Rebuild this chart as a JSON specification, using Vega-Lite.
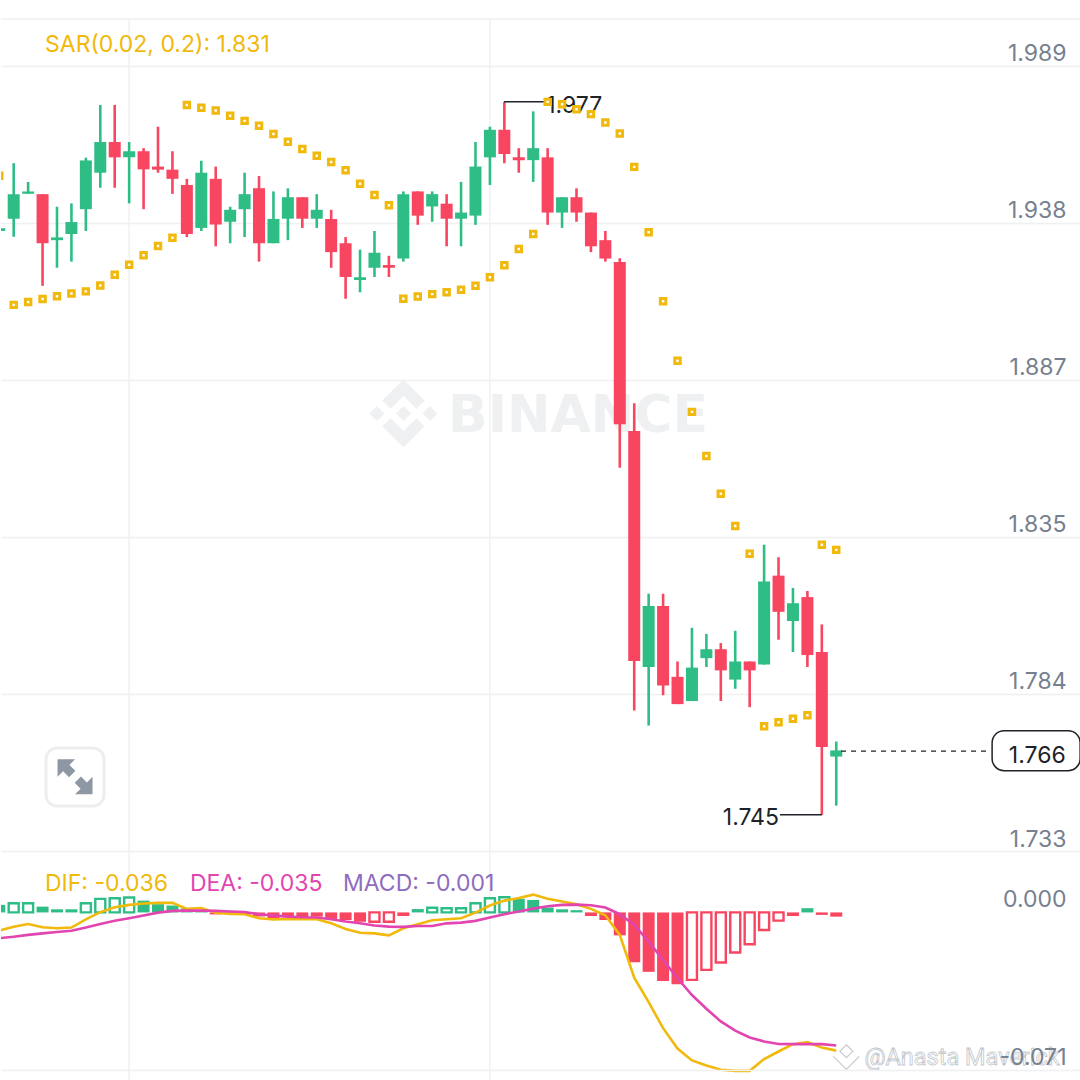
{"$schema":"https://vega.github.io/schema/vega-lite/v6.json","padding":0,"spacing":0,"bounds":"flush","autosize":{"type":"pad"},"background":"#ffffff","config":{"view":{"stroke":null},"text":{"font":"Inter"},"axis":{"labelFont":"Inter"}},
"datasets":{
"candles":[
{"i":-1,"o":1.9352,"h":1.9361,"l":1.9352,"c":1.9361,"d":"up"},
{"i":0,"o":1.9392,"h":1.9573,"l":1.9333,"c":1.9472,"d":"up"},
{"i":1,"o":1.9473,"h":1.9512,"l":1.9473,"c":1.9481,"d":"up"},
{"i":2,"o":1.9472,"h":1.9472,"l":1.9173,"c":1.9312,"d":"down"},
{"i":3,"o":1.9322,"h":1.9431,"l":1.9232,"c":1.9331,"d":"up"},
{"i":4,"o":1.9342,"h":1.9442,"l":1.9252,"c":1.9381,"d":"up"},
{"i":5,"o":1.9423,"h":1.9591,"l":1.9352,"c":1.9582,"d":"up"},
{"i":6,"o":1.9542,"h":1.9763,"l":1.9493,"c":1.9642,"d":"up"},
{"i":7,"o":1.9642,"h":1.9763,"l":1.9493,"c":1.9592,"d":"down"},
{"i":8,"o":1.9592,"h":1.9642,"l":1.9442,"c":1.9612,"d":"up"},
{"i":9,"o":1.9612,"h":1.9622,"l":1.9423,"c":1.9553,"d":"down"},
{"i":10,"o":1.9562,"h":1.9692,"l":1.9542,"c":1.9552,"d":"down"},
{"i":11,"o":1.9552,"h":1.9612,"l":1.9473,"c":1.9522,"d":"down"},
{"i":12,"o":1.9502,"h":1.9522,"l":1.9332,"c":1.9342,"d":"down"},
{"i":13,"o":1.9362,"h":1.9581,"l":1.9352,"c":1.9542,"d":"up"},
{"i":14,"o":1.9522,"h":1.9562,"l":1.9302,"c":1.9373,"d":"down"},
{"i":15,"o":1.9382,"h":1.9431,"l":1.9312,"c":1.9421,"d":"up"},
{"i":16,"o":1.9423,"h":1.9542,"l":1.9332,"c":1.9472,"d":"up"},
{"i":17,"o":1.9491,"h":1.9531,"l":1.9252,"c":1.9312,"d":"down"},
{"i":18,"o":1.9312,"h":1.9481,"l":1.9312,"c":1.9391,"d":"up"},
{"i":19,"o":1.9392,"h":1.9491,"l":1.9322,"c":1.9462,"d":"up"},
{"i":20,"o":1.9462,"h":1.9462,"l":1.9362,"c":1.9392,"d":"down"},
{"i":21,"o":1.9392,"h":1.9472,"l":1.9362,"c":1.9421,"d":"up"},
{"i":22,"o":1.9391,"h":1.9421,"l":1.9232,"c":1.9283,"d":"down"},
{"i":23,"o":1.9312,"h":1.9332,"l":1.9131,"c":1.9202,"d":"down"},
{"i":24,"o":1.9192,"h":1.9291,"l":1.9152,"c":1.9201,"d":"up"},
{"i":25,"o":1.9232,"h":1.9352,"l":1.9202,"c":1.9281,"d":"up"},
{"i":26,"o":1.9241,"h":1.9271,"l":1.9202,"c":1.9232,"d":"down"},
{"i":27,"o":1.9262,"h":1.9481,"l":1.9252,"c":1.9472,"d":"up"},
{"i":28,"o":1.9481,"h":1.9481,"l":1.9372,"c":1.9402,"d":"down"},
{"i":29,"o":1.9432,"h":1.9481,"l":1.9382,"c":1.9472,"d":"up"},
{"i":30,"o":1.9441,"h":1.9472,"l":1.9302,"c":1.9392,"d":"down"},
{"i":31,"o":1.9392,"h":1.9512,"l":1.9302,"c":1.9412,"d":"up"},
{"i":32,"o":1.9402,"h":1.9642,"l":1.9372,"c":1.9562,"d":"up"},
{"i":33,"o":1.9592,"h":1.9692,"l":1.9502,"c":1.9682,"d":"up"},
{"i":34,"o":1.9682,"h":1.9773,"l":1.9573,"c":1.9603,"d":"down"},
{"i":35,"o":1.9592,"h":1.9622,"l":1.9542,"c":1.9583,"d":"down"},
{"i":36,"o":1.9583,"h":1.9742,"l":1.9512,"c":1.9622,"d":"up"},
{"i":37,"o":1.9592,"h":1.9622,"l":1.9372,"c":1.9412,"d":"down"},
{"i":38,"o":1.9412,"h":1.9462,"l":1.9362,"c":1.9462,"d":"up"},
{"i":39,"o":1.9462,"h":1.9491,"l":1.9382,"c":1.9412,"d":"down"},
{"i":40,"o":1.9412,"h":1.9412,"l":1.9283,"c":1.9302,"d":"down"},
{"i":41,"o":1.9322,"h":1.9352,"l":1.9252,"c":1.9262,"d":"down"},
{"i":42,"o":1.9251,"h":1.9263,"l":1.858,"c":1.8722,"d":"down"},
{"i":43,"o":1.87,"h":1.879,"l":1.7788,"c":1.795,"d":"down"},
{"i":44,"o":1.793,"h":1.8169,"l":1.7739,"c":1.8129,"d":"up"},
{"i":45,"o":1.8129,"h":1.8169,"l":1.7838,"c":1.787,"d":"down"},
{"i":46,"o":1.7898,"h":1.7948,"l":1.7809,"c":1.7809,"d":"down"},
{"i":47,"o":1.7819,"h":1.8058,"l":1.7819,"c":1.7928,"d":"up"},
{"i":48,"o":1.7959,"h":1.8038,"l":1.793,"c":1.7988,"d":"up"},
{"i":49,"o":1.7988,"h":1.8008,"l":1.7819,"c":1.7919,"d":"down"},
{"i":50,"o":1.7889,"h":1.8048,"l":1.7859,"c":1.7948,"d":"up"},
{"i":51,"o":1.7948,"h":1.7948,"l":1.7799,"c":1.7919,"d":"down"},
{"i":52,"o":1.7938,"h":1.8329,"l":1.7938,"c":1.8209,"d":"up"},
{"i":53,"o":1.8228,"h":1.8288,"l":1.8019,"c":1.811,"d":"down"},
{"i":54,"o":1.808,"h":1.8188,"l":1.7979,"c":1.8138,"d":"up"},
{"i":55,"o":1.8158,"h":1.8178,"l":1.793,"c":1.7969,"d":"down"},
{"i":56,"o":1.7979,"h":1.8069,"l":1.7448,"c":1.7669,"d":"down"},
{"i":57,"o":1.7638,"h":1.7687,"l":1.7478,"c":1.7658,"d":"up"}
],
"sar":[
{"i":-1,"v":1.9532},{"i":0,"v":1.9111},{"i":1,"v":1.912},{"i":2,"v":1.913},{"i":3,"v":1.9139},{"i":4,"v":1.9148},{"i":5,"v":1.9155},{"i":6,"v":1.9174},{"i":7,"v":1.9209},{"i":8,"v":1.9242},{"i":9,"v":1.9273},{"i":10,"v":1.9303},{"i":11,"v":1.933},{"i":12,"v":1.9763},{"i":13,"v":1.9754},{"i":14,"v":1.9745},{"i":15,"v":1.9728},{"i":16,"v":1.9711},{"i":17,"v":1.9695},{"i":18,"v":1.9668},{"i":19,"v":1.9643},{"i":20,"v":1.9619},{"i":21,"v":1.9597},{"i":22,"v":1.9577},{"i":23,"v":1.955},{"i":24,"v":1.9506},{"i":25,"v":1.9469},{"i":26,"v":1.9436},{"i":27,"v":1.9131},{"i":28,"v":1.9138},{"i":29,"v":1.9146},{"i":30,"v":1.9152},{"i":31,"v":1.916},{"i":32,"v":1.9173},{"i":33,"v":1.9201},{"i":34,"v":1.924},{"i":35,"v":1.9293},{"i":36,"v":1.9342},{"i":37,"v":1.9773},{"i":38,"v":1.9765},{"i":39,"v":1.9749},{"i":40,"v":1.9733},{"i":41,"v":1.9706},{"i":42,"v":1.967},{"i":43,"v":1.9561},{"i":44,"v":1.9348},{"i":45,"v":1.9123},{"i":46,"v":1.8929},{"i":47,"v":1.8762},{"i":48,"v":1.8618},{"i":49,"v":1.8495},{"i":50,"v":1.839},{"i":51,"v":1.8299},{"i":52,"v":1.7737},{"i":53,"v":1.775},{"i":54,"v":1.7761},{"i":55,"v":1.7773},{"i":56,"v":1.8329},{"i":57,"v":1.8312}
],
"macd":[
{"i":-1,"dif":-0.0082,"dea":-0.0116,"hist":0.0034,"d":"up","hollow":false},
{"i":0,"dif":-0.0064,"dea":-0.0109,"hist":0.0041,"d":"up","hollow":true},
{"i":1,"dif":-0.0052,"dea":-0.0101,"hist":0.0041,"d":"up","hollow":true},
{"i":2,"dif":-0.0067,"dea":-0.0094,"hist":0.0026,"d":"up","hollow":false},
{"i":3,"dif":-0.0071,"dea":-0.0088,"hist":0.0014,"d":"up","hollow":false},
{"i":4,"dif":-0.0068,"dea":-0.0082,"hist":0.0014,"d":"up","hollow":false},
{"i":5,"dif":-0.0031,"dea":-0.0068,"hist":0.0041,"d":"up","hollow":true},
{"i":6,"dif":0.0001,"dea":-0.0052,"hist":0.0061,"d":"up","hollow":true},
{"i":7,"dif":0.0023,"dea":-0.0037,"hist":0.0064,"d":"up","hollow":true},
{"i":8,"dif":0.0034,"dea":-0.0026,"hist":0.0067,"d":"up","hollow":true},
{"i":9,"dif":0.004,"dea":-0.0014,"hist":0.0053,"d":"up","hollow":false},
{"i":10,"dif":0.0043,"dea":-0.0001,"hist":0.0037,"d":"up","hollow":false},
{"i":11,"dif":0.0043,"dea":0.0007,"hist":0.0031,"d":"up","hollow":false},
{"i":12,"dif":0.0016,"dea":0.0008,"hist":0.0018,"d":"up","hollow":false},
{"i":13,"dif":0.002,"dea":0.0008,"hist":0.0012,"d":"up","hollow":false},
{"i":14,"dif":-0.0001,"dea":0.0007,"hist":-0.0009,"d":"down","hollow":false},
{"i":15,"dif":-0.0007,"dea":0.0004,"hist":-0.0005,"d":"down","hollow":false},
{"i":16,"dif":-0.0008,"dea":0.0002,"hist":-0.001,"d":"down","hollow":false},
{"i":17,"dif":-0.0026,"dea":-0.0008,"hist":-0.0018,"d":"down","hollow":false},
{"i":18,"dif":-0.0032,"dea":-0.0014,"hist":-0.0027,"d":"down","hollow":false},
{"i":19,"dif":-0.0029,"dea":-0.0019,"hist":-0.0022,"d":"down","hollow":false},
{"i":20,"dif":-0.0031,"dea":-0.0022,"hist":-0.0024,"d":"down","hollow":false},
{"i":21,"dif":-0.0031,"dea":-0.0023,"hist":-0.0019,"d":"down","hollow":false},
{"i":22,"dif":-0.0049,"dea":-0.0031,"hist":-0.003,"d":"down","hollow":false},
{"i":23,"dif":-0.0074,"dea":-0.0041,"hist":-0.0034,"d":"down","hollow":false},
{"i":24,"dif":-0.0091,"dea":-0.0049,"hist":-0.0042,"d":"down","hollow":false},
{"i":25,"dif":-0.0094,"dea":-0.0059,"hist":-0.0042,"d":"down","hollow":true},
{"i":26,"dif":-0.0103,"dea":-0.0064,"hist":-0.0042,"d":"down","hollow":true},
{"i":27,"dif":-0.0071,"dea":-0.0065,"hist":-0.0016,"d":"down","hollow":false},
{"i":28,"dif":-0.0053,"dea":-0.0061,"hist":0.0015,"d":"up","hollow":false},
{"i":29,"dif":-0.0035,"dea":-0.0061,"hist":0.0021,"d":"up","hollow":true},
{"i":30,"dif":-0.0031,"dea":-0.0049,"hist":0.0019,"d":"up","hollow":true},
{"i":31,"dif":-0.0026,"dea":-0.0046,"hist":0.0019,"d":"up","hollow":true},
{"i":32,"dif":-0.0001,"dea":-0.0038,"hist":0.0041,"d":"up","hollow":true},
{"i":33,"dif":0.0031,"dea":-0.0023,"hist":0.0064,"d":"up","hollow":true},
{"i":34,"dif":0.0053,"dea":-0.0008,"hist":0.0068,"d":"up","hollow":true},
{"i":35,"dif":0.0065,"dea":0.0004,"hist":0.0061,"d":"up","hollow":false},
{"i":36,"dif":0.008,"dea":0.0017,"hist":0.0056,"d":"up","hollow":false},
{"i":37,"dif":0.0061,"dea":0.0028,"hist":0.0022,"d":"up","hollow":false},
{"i":38,"dif":0.0049,"dea":0.0034,"hist":0.0014,"d":"up","hollow":false},
{"i":39,"dif":0.0037,"dea":0.0035,"hist":0.001,"d":"up","hollow":false},
{"i":40,"dif":0.0016,"dea":0.0032,"hist":-0.0016,"d":"down","hollow":false},
{"i":41,"dif":-0.0013,"dea":0.0022,"hist":-0.0034,"d":"down","hollow":false},
{"i":42,"dif":-0.0101,"dea":-0.0008,"hist":-0.0103,"d":"down","hollow":false},
{"i":43,"dif":-0.0293,"dea":-0.0056,"hist":-0.0224,"d":"down","hollow":false},
{"i":44,"dif":-0.0403,"dea":-0.0131,"hist":-0.0267,"d":"down","hollow":false},
{"i":45,"dif":-0.052,"dea":-0.0213,"hist":-0.0308,"d":"down","hollow":false},
{"i":46,"dif":-0.0612,"dea":-0.0296,"hist":-0.0323,"d":"down","hollow":false},
{"i":47,"dif":-0.0665,"dea":-0.0371,"hist":-0.0303,"d":"down","hollow":true},
{"i":48,"dif":-0.0688,"dea":-0.0433,"hist":-0.0258,"d":"down","hollow":true},
{"i":49,"dif":-0.0707,"dea":-0.049,"hist":-0.0225,"d":"down","hollow":true},
{"i":50,"dif":-0.0712,"dea":-0.0531,"hist":-0.018,"d":"down","hollow":true},
{"i":51,"dif":-0.0712,"dea":-0.0562,"hist":-0.0143,"d":"down","hollow":true},
{"i":52,"dif":-0.0659,"dea":-0.058,"hist":-0.0079,"d":"down","hollow":true},
{"i":53,"dif":-0.0625,"dea":-0.0591,"hist":-0.0037,"d":"down","hollow":true},
{"i":54,"dif":-0.0592,"dea":-0.0592,"hist":-0.0016,"d":"down","hollow":false},
{"i":55,"dif":-0.0583,"dea":-0.0591,"hist":0.0019,"d":"up","hollow":false},
{"i":56,"dif":-0.0607,"dea":-0.0592,"hist":-0.0011,"d":"down","hollow":false},
{"i":57,"dif":-0.0621,"dea":-0.0598,"hist":-0.0019,"d":"down","hollow":false}
]},
"vconcat":[
{"width":1080,"height":851,
"encoding":{"x":{"field":"i","type":"quantitative","scale":{"domain":[-0.88,73.96],"nice":false,"zero":false,"padding":0},"axis":null}},
"layer":[
{"data":{"values":[{"i":8,"a":2.0043,"b":1.733},{"i":33,"a":2.0043,"b":1.733}]},"mark":{"type":"rule","color":"#EFF1F3","strokeWidth":1.5},"encoding":{"y":{"field":"a","type":"quantitative","scale":{"domain":[1.733,2.01052],"nice":false,"zero":false},"axis":{"orient":"right","values":[1.733,1.7842,1.8354,1.8866,1.9378,1.989],"format":".3f","title":null,"grid":true,"gridColor":"#EEF0F2","gridWidth":1.5,"domain":false,"ticks":false,"labelAlign":"right","labelPadding":-15,"labelOffset":-12,"labelFontSize":23,"labelColor":"#76808F","labelBaseline":"middle"}},"y2":{"field":"b"}}},
{"data":{"values":[{"i":-0.88,"j":73.96,"v":2.0043}]},"mark":{"type":"rule","color":"#EFF1F3","strokeWidth":1.5},"encoding":{"x2":{"field":"j"},"y":{"field":"v","type":"quantitative"}}},
{"data":{"values":[{"label":"BINANCE","i":30.1,"v":1.8747}]},"mark":{"type":"text","font":"DejaVu Sans","fontWeight":"bold","fontSize":52,"align":"left","baseline":"middle","color":"#EEF0F1"},"encoding":{"text":{"field":"label"},"y":{"field":"v","type":"quantitative"}}},
{"data":{"values":[{"i":27.01,"v":1.8757}]},"mark":{"type":"point","filled":true,"color":"#EEF0F1","opacity":1,"size":4624,"shape":"M0,-.22L.22,0L0,.22L-.22,0ZM-.78,-.22L-.56,0L-.78,.22L-1,0ZM.78,-.22L1,0L.78,.22L.56,0ZM0,-1L.62,-.38L.38,-.14L0,-.52L-.38,-.14L-.62,-.38ZM0,1L-.62,.38L-.38,.14L0,.52L.38,.14L.62,.38Z"},"encoding":{"y":{"field":"v","type":"quantitative"}}},
{"data":{"name":"candles"},"mark":{"type":"rule","strokeWidth":2.6,"clip":true},"encoding":{"y":{"field":"h","type":"quantitative"},"y2":{"field":"l"},"color":{"field":"d","type":"nominal","scale":{"domain":["up","down"],"range":["#2EBD85","#F84560"]},"legend":null}}},
{"data":{"name":"candles"},"mark":{"type":"bar","size":12,"orient":"vertical","clip":true},"encoding":{"y":{"field":"o","type":"quantitative"},"y2":{"field":"c"},"color":{"field":"d","type":"nominal","legend":null}}},
{"data":{"values":[{"i":33.98,"j":36.75,"v":1.9773},{"i":53.1,"j":56,"v":1.7448}]},"mark":{"type":"rule","color":"#1E2329","strokeWidth":1.5},"encoding":{"x2":{"field":"j"},"y":{"field":"v","type":"quantitative"}}},
{"data":{"values":[{"label":"1.977","i":36.9,"v":1.976}]},"mark":{"type":"text","fontSize":23,"align":"left","baseline":"middle","color":"#1E2329"},"encoding":{"text":{"field":"label"},"y":{"field":"v","type":"quantitative"}}},
{"data":{"values":[{"label":"1.745","i":53.03,"v":1.7436}]},"mark":{"type":"text","fontSize":23,"align":"right","baseline":"middle","color":"#1E2329"},"encoding":{"text":{"field":"label"},"y":{"field":"v","type":"quantitative"}}},
{"data":{"name":"sar"},"mark":{"type":"point","shape":"square","filled":false,"fill":"#FFFFFF","fillOpacity":1,"stroke":"#F0B90B","strokeWidth":3,"opacity":1,"size":30,"clip":true},"encoding":{"y":{"field":"v","type":"quantitative"}}},
{"data":{"values":[{"i":57.33,"j":67.73,"v":1.7656}]},"mark":{"type":"rule","color":"#1E2329","strokeWidth":1.2,"strokeDash":[5,5]},"encoding":{"x2":{"field":"j"},"y":{"field":"v","type":"quantitative"}}},
{"data":{"values":[{"i":67.8,"j":73.9,"a":1.7722,"b":1.7592}]},"mark":{"type":"rect","fill":"#FFFFFF","stroke":"#1E2329","strokeWidth":1.5,"cornerRadius":12},"encoding":{"x2":{"field":"j"},"y":{"field":"a","type":"quantitative"},"y2":{"field":"b"}}},
{"data":{"values":[{"label":"1.766","i":72.9,"v":1.764}]},"mark":{"type":"text","fontSize":23,"align":"right","baseline":"middle","color":"#1E2329"},"encoding":{"text":{"field":"label"},"y":{"field":"v","type":"quantitative"}}},
{"data":{"values":[{"i":2.24,"j":6.26,"a":1.7666,"b":1.7477}]},"mark":{"type":"rect","fill":"#FFFFFF","stroke":"#ECEEF0","strokeWidth":3,"cornerRadius":11},"encoding":{"x2":{"field":"j"},"y":{"field":"a","type":"quantitative"},"y2":{"field":"b"}}},
{"data":{"values":[{"i":4.25,"v":1.7572}]},"mark":{"type":"point","filled":true,"color":"#8E98A5","opacity":1,"size":1225,"shape":"M-1,-1L0,-1L-.32,-.68L.02,-.34L-.34,.02L-.68,-.32L-1,0ZM1,1L0,1L.32,.68L-.02,.34L.34,-.02L.68,.32L1,0Z"},"encoding":{"y":{"field":"v","type":"quantitative"}}},
{"data":{"values":[{"label":"SAR(0.02, 0.2): 1.831","i":2.17,"v":1.9958}]},"mark":{"type":"text","fontSize":23,"align":"left","baseline":"middle","color":"#F0B90B"},"encoding":{"text":{"field":"label"},"y":{"field":"v","type":"quantitative"}}}
]},
{"width":1080,"height":229,
"encoding":{"x":{"field":"i","type":"quantitative","scale":{"domain":[-0.88,73.96],"nice":false,"zero":false,"padding":0},"axis":null}},
"layer":[
{"data":{"values":[{"i":8,"a":0.0276,"b":-0.0753},{"i":33,"a":0.0276,"b":-0.0753}]},"mark":{"type":"rule","color":"#EFF1F3","strokeWidth":1.5},"encoding":{"y":{"field":"a","type":"quantitative","scale":{"domain":[-0.0753,0.0276],"nice":false,"zero":false},"axis":{"orient":"right","values":[0,-0.071],"format":".3f","title":null,"grid":true,"gridColor":{"condition":{"test":"datum.value===0","value":"transparent"},"value":"#EEF0F2"},"gridWidth":1.5,"domain":false,"ticks":false,"labelAlign":"right","labelPadding":-15,"labelOffset":-13,"labelFontSize":23,"labelColor":"#76808F","labelBaseline":"middle","zindex":1,"labelExpr":"replace(datum.label,'−','-')"}},"y2":{"field":"b"}}},
{"data":{"name":"macd"},"transform":[{"filter":"!datum.hollow"}],"mark":{"type":"bar","size":12,"orient":"vertical","clip":true},"encoding":{"y":{"field":"hist","type":"quantitative"},"y2":{"datum":0},"color":{"field":"d","type":"nominal","legend":null}}},
{"data":{"name":"macd"},"transform":[{"filter":"datum.hollow"}],"mark":{"type":"bar","size":10,"orient":"vertical","clip":true,"fill":"#FFFFFF","strokeWidth":2.4},"encoding":{"y":{"field":"hist","type":"quantitative"},"y2":{"datum":0},"stroke":{"field":"d","type":"nominal","scale":{"domain":["up","down"],"range":["#2EBD85","#F84560"]},"legend":null}}},
{"data":{"name":"macd"},"mark":{"type":"line","color":"#F0B90B","strokeWidth":2.6,"clip":true},"encoding":{"y":{"field":"dif","type":"quantitative"}}},
{"data":{"name":"macd"},"mark":{"type":"line","color":"#E245B0","strokeWidth":2.6,"clip":true},"encoding":{"y":{"field":"dea","type":"quantitative"}}},
{"data":{"values":[{"label":"DIF: -0.036","i":2.17,"v":0.0128}]},"mark":{"type":"text","fontSize":23,"align":"left","baseline":"middle","color":"#F0B90B"},"encoding":{"text":{"field":"label"},"y":{"field":"v","type":"quantitative"}}},
{"data":{"values":[{"label":"DEA: -0.035","i":12.21,"v":0.0128}]},"mark":{"type":"text","fontSize":23,"align":"left","baseline":"middle","color":"#E245B0"},"encoding":{"text":{"field":"label"},"y":{"field":"v","type":"quantitative"}}},
{"data":{"values":[{"label":"MACD: -0.001","i":22.82,"v":0.0128}]},"mark":{"type":"text","fontSize":23,"align":"left","baseline":"middle","color":"#8E6CBF"},"encoding":{"text":{"field":"label"},"y":{"field":"v","type":"quantitative"}}},
{"data":{"values":[{"i":57.7,"v":-0.0653}]},"mark":{"type":"point","filled":false,"stroke":"#C6CBD1","strokeWidth":1.2,"opacity":1,"size":676,"shape":"M0,-1L.5,-.5L0,0L-.5,-.5ZM-1,-.1L0,.9L1,-.1"},"encoding":{"y":{"field":"v","type":"quantitative"}}},
{"data":{"values":[{"label":"@Anasta Maverick","i":58.95,"v":-0.0653}]},"mark":{"type":"text","font":"Roboto","fontSize":23.5,"align":"left","baseline":"middle","fill":"#FFFFFF","stroke":"#C2C7CD","strokeWidth":0.8},"encoding":{"text":{"field":"label"},"y":{"field":"v","type":"quantitative"}}}
]}
]}
